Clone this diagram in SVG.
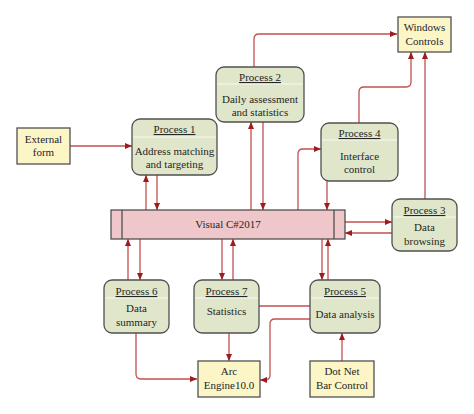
<svg xmlns="http://www.w3.org/2000/svg" width="474" height="414" viewBox="0 0 474 414">
<defs>
<marker id="ah" markerUnits="userSpaceOnUse" markerWidth="7" markerHeight="6" refX="7" refY="3" orient="auto">
<path d="M0,0 L7,3 L0,6 z" fill="#9e1b1e"/>
</marker>
<style>
.proc{fill:#dfe6c9;stroke:#505050;stroke-width:1.3}
.ext{fill:#fcf5c6;stroke:#505050;stroke-width:1.3}
.bar{fill:#efc6ca;stroke:#505050;stroke-width:1.3}
.sep{stroke:#ffffff;stroke-width:1.2;opacity:0.8}
.t{font-family:"Liberation Serif","Times New Roman",serif;font-size:11px;fill:#262626;text-anchor:middle}
.u{text-decoration:underline}
.c{fill:none;stroke:#c2504f;stroke-width:1.3}
</style>
</defs>
<rect width="474" height="414" fill="#ffffff"/>

<g id="connectors">
<path class="c" d="M70,146 H132" marker-end="url(#ah)"/>
<path class="c" d="M146,210 V175" marker-end="url(#ah)"/>
<path class="c" d="M157,175 V210" marker-end="url(#ah)"/>
<path class="c" d="M251,210 V122" marker-end="url(#ah)"/>
<path class="c" d="M263,122 V210" marker-end="url(#ah)"/>
<path class="c" d="M254,67 V39 Q254,34 259,34 H397" marker-end="url(#ah)"/>
<path class="c" d="M359,123 V92 Q359,87 364,87 H406 Q411,87 411,82 V52" marker-end="url(#ah)"/>
<path class="c" d="M425,199 V52" marker-end="url(#ah)"/>
<path class="c" d="M298,210 V154 Q298,149 303,149 H321" marker-end="url(#ah)"/>
<path class="c" d="M327,181 V210" marker-end="url(#ah)"/>
<path class="c" d="M345,222 H392" marker-end="url(#ah)"/>
<path class="c" d="M392,233 H345" marker-end="url(#ah)"/>
<path class="c" d="M128,280 V239" marker-end="url(#ah)"/>
<path class="c" d="M140,239 V280" marker-end="url(#ah)"/>
<path class="c" d="M222,239 V280" marker-end="url(#ah)"/>
<path class="c" d="M233,280 V239" marker-end="url(#ah)"/>
<path class="c" d="M322,239 V280" marker-end="url(#ah)"/>
<path class="c" d="M328,280 V239" marker-end="url(#ah)"/>
<path class="c" d="M136,333 V374 Q136,379 141,379 H197" marker-end="url(#ah)"/>
<path class="c" d="M229,333 V361" marker-end="url(#ah)"/>
<path class="c" d="M310,306 H259"/>
<path class="c" d="M310,319 H275 Q270,319 270,324 V375 Q270,380 265,380 H260" marker-end="url(#ah)"/>
<path class="c" d="M342,361 V333" marker-end="url(#ah)"/>
</g>

<g id="external-form">
<rect class="ext" x="17" y="128" width="53" height="36"/>
<text class="t" x="43.5" y="143">External</text>
<text class="t" x="43.5" y="156">form</text>
</g>

<g id="windows-controls">
<rect class="ext" x="398" y="17" width="53" height="35"/>
<text class="t" x="424.5" y="31">Windows</text>
<text class="t" x="424.5" y="45">Controls</text>
</g>

<g id="process1">
<rect class="proc" x="132" y="119" width="85" height="56" rx="8"/>
<line class="sep" x1="133" y1="137" x2="216" y2="137"/>
<text class="t u" x="174.5" y="133">Process 1</text>
<text class="t" x="174.5" y="155">Address matching</text>
<text class="t" x="174.5" y="168">and targeting</text>
</g>

<g id="process2">
<rect class="proc" x="216" y="67" width="88" height="55" rx="8"/>
<line class="sep" x1="217" y1="84" x2="303" y2="84"/>
<text class="t u" x="260" y="81">Process 2</text>
<text class="t" x="260" y="103">Daily assessment</text>
<text class="t" x="260" y="116">and statistics</text>
</g>

<g id="process4">
<rect class="proc" x="321" y="123" width="77" height="58" rx="8"/>
<line class="sep" x1="322" y1="140" x2="397" y2="140"/>
<text class="t u" x="359.5" y="137">Process 4</text>
<text class="t" x="359.5" y="160">Interface</text>
<text class="t" x="359.5" y="173">control</text>
</g>

<g id="process3">
<rect class="proc" x="392" y="199" width="65" height="52" rx="8"/>
<line class="sep" x1="393" y1="217" x2="456" y2="217"/>
<text class="t u" x="424.5" y="214">Process 3</text>
<text class="t" x="424.5" y="231">Data</text>
<text class="t" x="424.5" y="245">browsing</text>
</g>

<g id="visual-csharp">
<rect class="bar" x="111" y="210" width="234" height="29"/>
<line x1="122" y1="210" x2="122" y2="239" stroke="#505050" stroke-width="1.3"/>
<line x1="334" y1="210" x2="334" y2="239" stroke="#505050" stroke-width="1.3"/>
<text class="t" x="228" y="228">Visual C#2017</text>
</g>

<g id="process6">
<rect class="proc" x="104" y="280" width="65" height="53" rx="8"/>
<line class="sep" x1="105" y1="298" x2="168" y2="298"/>
<text class="t u" x="136.5" y="295">Process 6</text>
<text class="t" x="136.5" y="312">Data</text>
<text class="t" x="136.5" y="326">summary</text>
</g>

<g id="process7">
<rect class="proc" x="194" y="280" width="65" height="53" rx="8"/>
<line class="sep" x1="195" y1="298" x2="258" y2="298"/>
<text class="t u" x="226.5" y="295">Process 7</text>
<text class="t" x="226.5" y="315">Statistics</text>
</g>

<g id="process5">
<rect class="proc" x="310" y="280" width="70" height="53" rx="8"/>
<line class="sep" x1="311" y1="298" x2="379" y2="298"/>
<text class="t u" x="345" y="295">Process 5</text>
<text class="t" x="345" y="318">Data analysis</text>
</g>

<g id="arc-engine">
<rect class="ext" x="198" y="361" width="62" height="36"/>
<text class="t" x="229" y="375">Arc</text>
<text class="t" x="229" y="389">Engine10.0</text>
</g>

<g id="dot-net-bar-control">
<rect class="ext" x="310" y="361" width="64" height="36"/>
<text class="t" x="342" y="375">Dot Net</text>
<text class="t" x="342" y="389">Bar Control</text>
</g>
</svg>
